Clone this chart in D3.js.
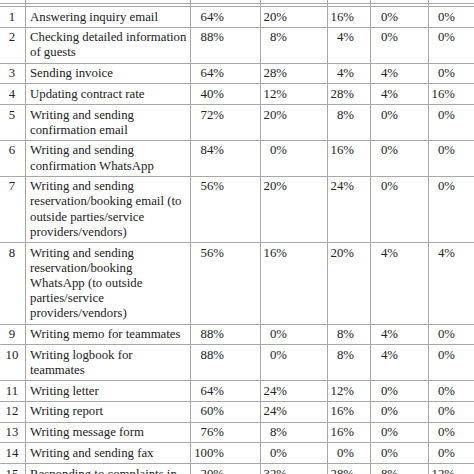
<!DOCTYPE html>
<html><head><meta charset="utf-8">
<script src="https://cdn.jsdelivr.net/npm/d3@7"></script>
<style>body{margin:0;background:#fff}</style>
</head><body>
<script>
var nums = ['1','2','3','4','5','6','7','8','9','10','11','12','13','14','15'];
var tasks = [
  ['Answering inquiry email'],
  ['Checking detailed information', 'of guests'],
  ['Sending invoice'],
  ['Updating contract rate'],
  ['Writing and sending', 'confirmation email'],
  ['Writing and sending', 'confirmation WhatsApp'],
  ['Writing and sending', 'reservation/booking email (to', 'outside parties/service', 'providers/vendors)'],
  ['Writing and sending', 'reservation/booking', 'WhatsApp (to outside', 'parties/service', 'providers/vendors)'],
  ['Writing memo for teammates'],
  ['Writing logbook for', 'teammates'],
  ['Writing letter'],
  ['Writing report'],
  ['Writing message form'],
  ['Writing and sending fax'],
  ['Responding to complaints in']
];
var col1 = [64, 88, 64, 40, 72, 84, 56, 56, 88, 88, 64, 60, 76, 100, 20];
var col2 = [20, 8, 28, 12, 20, 0, 20, 16, 0, 0, 24, 24, 8, 0, 32];
var col3 = [16, 4, 4, 28, 8, 16, 24, 20, 8, 8, 12, 16, 16, 0, 28];
var col4 = [0, 0, 4, 4, 0, 0, 0, 4, 4, 4, 0, 0, 0, 0, 8];
var col5 = [0, 0, 0, 16, 0, 0, 0, 4, 0, 0, 0, 0, 0, 0, 12];

var W = 474, H = 474;
var svg = d3.select('body').append('svg').attr('width', W).attr('height', H)
  .style('font-family', '"Liberation Serif", "DejaVu Serif", serif')
  .style('font-size', '12.8px').attr('fill', '#222');

var lineH = 15.2, pad = 5.5, top0 = 6;
var heights = tasks.map(function (t) { return pad + lineH * t.length; });
var tops = [top0].concat(Array.from(d3.cumsum(heights), function (v) { return top0 + v; }));

var colX = [0, 25, 190, 260, 327, 370, 428, 480];
var valueRight = [224, 287, 354, 398, 455];
var cols = [col1, col2, col3, col4, col5];

var grid = '#a8a8a8';
// horizontal lines
svg.selectAll('line.h').data(tops).enter().append('line')
  .attr('x1', 0).attr('x2', W)
  .attr('y1', function (d) { return Math.round(d) + 0.5; }).attr('y2', function (d) { return Math.round(d) + 0.5; })
  .attr('stroke', grid).attr('stroke-width', 1);
svg.append('line').attr('x1', 0).attr('x2', W).attr('y1', 3.5).attr('y2', 3.5).attr('stroke', grid);
// vertical lines
svg.selectAll('line.v').data(colX.slice(1, 7)).enter().append('line')
  .attr('x1', function (d) { return d + 0.5; }).attr('x2', function (d) { return d + 0.5; })
  .attr('y1', 0).attr('y2', H).attr('stroke', grid);

var rows = svg.selectAll('g.row').data(tasks).enter().append('g')
  .attr('transform', function (d, i) { return 'translate(0,' + tops[i] + ')'; });

rows.append('text').attr('x', 12).attr('y', 14.5).attr('text-anchor', 'middle')
  .text(function (d, i) { return nums[i]; });

rows.append('text').attr('x', 30).attr('y', 14.5)
  .selectAll('tspan').data(function (d) { return d; }).enter().append('tspan')
  .attr('x', 30).attr('dy', function (d, i) { return i ? lineH : 0; })
  .text(function (d) { return d; });

cols.forEach(function (c, ci) {
  rows.append('text').attr('x', valueRight[ci]).attr('y', 14.5).attr('text-anchor', 'end')
    .text(function (d, i) { return c[i] + '%'; });
});
</script>
</body></html>
